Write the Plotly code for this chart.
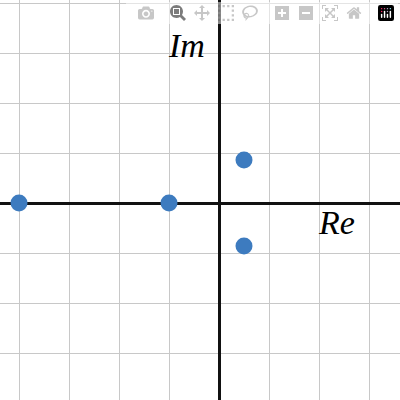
import plotly.graph_objects as go

# roots in the complex plane
re_vals = [-4, -1, 0.5, 0.5]
im_vals = [0, 0, 0.86, -0.86]

fig = go.Figure()
fig.add_trace(go.Scatter(x=re_vals, y=im_vals, mode='markers',
                         marker=dict(size=17, color='#3d7bbf'),
                         showlegend=False))

fig.add_annotation(x=-0.66, y=3.16, text='<i>Im</i>', showarrow=False,
                   font=dict(family='Liberation Serif', size=34, color='black'))
fig.add_annotation(x=2.34, y=-0.38, text='<i>Re</i>', showarrow=False,
                   font=dict(family='Liberation Serif', size=34, color='black'))

axis = dict(showticklabels=False, ticks='', dtick=1, gridcolor='#c8c8c8',
            gridwidth=1, zeroline=True, zerolinecolor='#111', zerolinewidth=2.5,
            showline=False)
fig.update_xaxes(range=[-4.38, 3.62], **axis)
fig.update_yaxes(range=[-3.94, 4.06], **axis)

fig.update_layout(width=400, height=400, margin=dict(l=0, r=0, t=0, b=0),
                  plot_bgcolor='white', paper_bgcolor='white')

# remove the page's default body margin so the plot sits at 0,0
fig.write_html("out.html", post_script="document.body.style.margin='0';")
